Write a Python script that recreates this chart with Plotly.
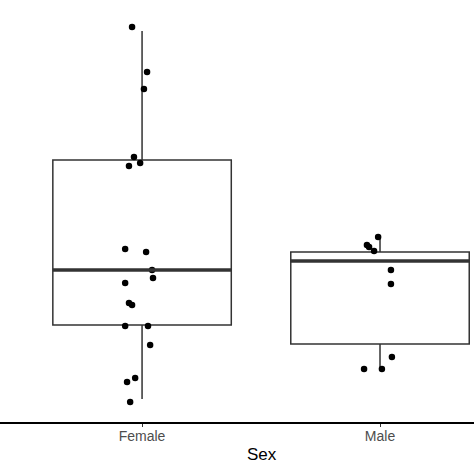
import plotly.graph_objects as go

categories = ["Female", "Male"]
cat_pos = [1, 2]
x_title = "Sex"

# Box statistics
q1 = [9.7, 7.8]
median = [15.2, 16.1]
q3 = [26.2, 17.0]
lower_whisker = [2.3, 5.3]
upper_whisker = [39.1, 18.5]

# Individual observations with their horizontal jitter offsets
female_values = [39.5, 35.0, 33.3, 26.5, 25.6, 25.9, 17.3, 17.0, 15.2, 14.4,
                 13.9, 11.9, 11.7, 9.6, 9.6, 7.7, 4.4, 4.0, 2.0]
female_jitter = [-0.042, 0.021, 0.008, -0.034, -0.055, -0.008, -0.071, 0.017, 0.042, 0.046,
                 -0.071, -0.055, -0.042, -0.071, 0.025, 0.034, -0.029, -0.063, -0.050]
male_values = [18.5, 17.7, 17.5, 17.1, 15.2, 13.8, 6.5, 5.3, 5.3]
male_jitter = [-0.008, -0.055, -0.046, -0.025, 0.046, 0.046, 0.050, -0.067, 0.008]

box_width = 0.75
line_col = "#333333"

fig = go.Figure()
for i, cat in enumerate(categories):
    fig.add_trace(go.Box(
        x=[cat_pos[i]], q1=[q1[i]], median=[median[i]], q3=[q3[i]],
        lowerfence=[lower_whisker[i]], upperfence=[upper_whisker[i]],
        width=box_width, whiskerwidth=0, fillcolor="white",
        line=dict(color=line_col, width=1.5), boxpoints=False,
        showlegend=False, hoverinfo="skip", name=cat,
    ))
    fig.add_shape(type="line", xref="x", yref="y",
                  x0=cat_pos[i] - box_width / 2, x1=cat_pos[i] + box_width / 2,
                  y0=median[i], y1=median[i],
                  line=dict(color=line_col, width=3.5))

for pos, vals, jit in [(cat_pos[0], female_values, female_jitter),
                       (cat_pos[1], male_values, male_jitter)]:
    fig.add_trace(go.Scatter(
        x=[pos + j for j in jit], y=vals, mode="markers",
        marker=dict(color="black", size=6.5), showlegend=False,
    ))

fig.add_annotation(text=x_title, xref="paper", yref="paper",
                   x=0.553, y=-0.077, xanchor="center", yanchor="middle",
                   showarrow=False, font=dict(size=17, color="black"))

fig.update_layout(
    width=474, height=474,
    margin=dict(l=0, r=0, t=0, b=52),
    plot_bgcolor="white", paper_bgcolor="white",
    font=dict(family="Liberation Sans, Arial, sans-serif"),
    boxmode="overlay",
    xaxis=dict(
        range=[0.403, 2.395], tickvals=cat_pos, ticktext=categories,
        showgrid=False, zeroline=False, showline=True, linecolor="black", linewidth=2,
        ticks="outside", ticklen=3, tickcolor=line_col, tickwidth=1,
        ticklabelstandoff=-3,
        tickfont=dict(size=14, color="#4d4d4d"),
        automargin=False,
    ),
    yaxis=dict(range=[0, 42.2], showgrid=False, zeroline=False, showline=False,
               showticklabels=False, ticks=""),
)

fig.write_html("out.html", config={"displayModeBar": False},
               post_script="document.body.style.margin='0';document.body.style.overflow='hidden';")
